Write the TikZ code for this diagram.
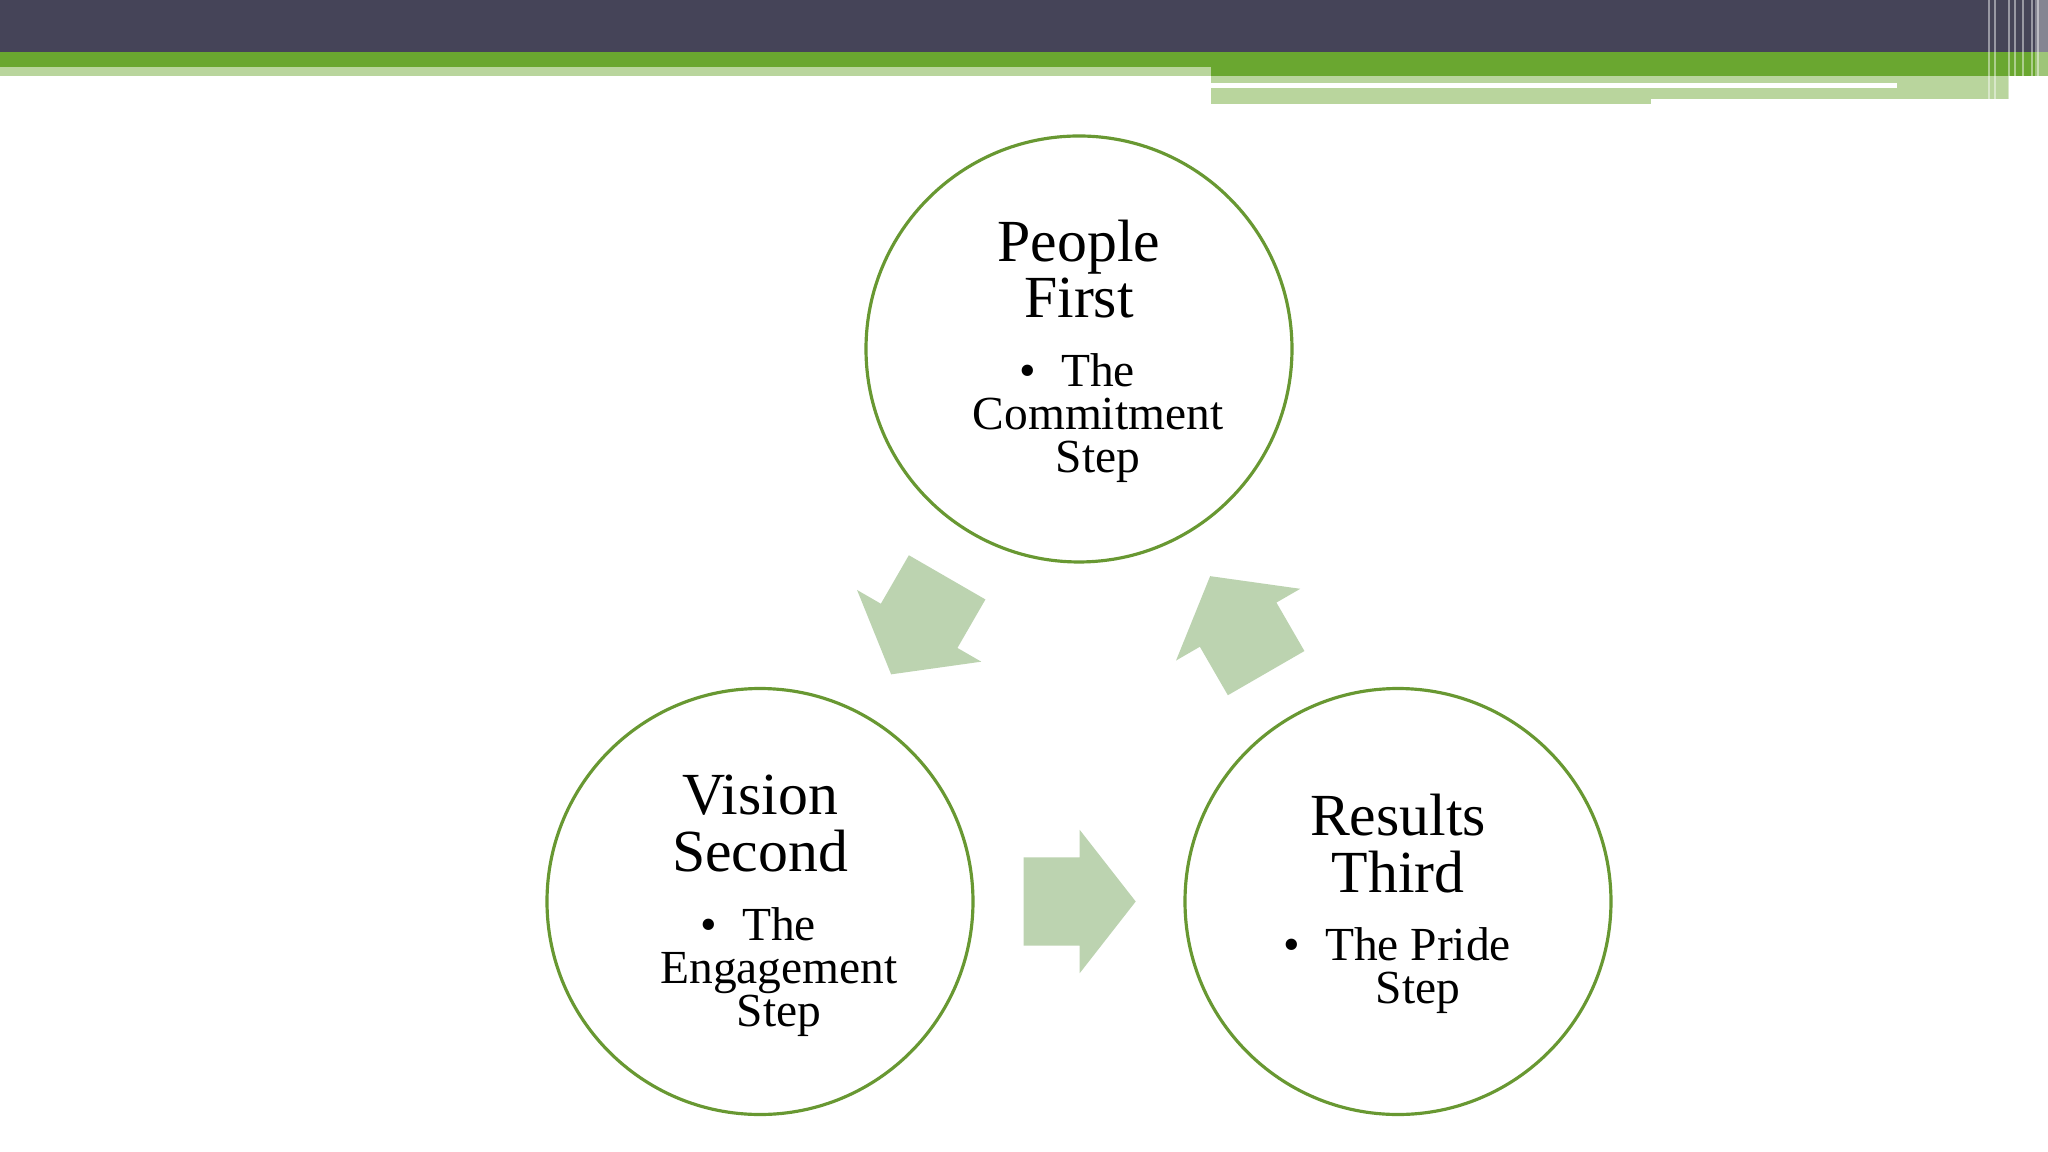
\documentclass[tikz,border=0pt]{standalone}
\usepackage{fontspec}
\setmainfont{Liberation Serif}
\usetikzlibrary{shapes.arrows,positioning,calc}
\definecolor{barDark}{RGB}{69,68,88}
\definecolor{barGreen}{RGB}{106,167,48}
\definecolor{barLight}{RGB}{185,213,157}
\definecolor{ringGreen}{RGB}{104,152,50}
\definecolor{arrowGreen}{RGB}{188,211,176}
\tikzset{
  stage/.style={circle,draw=ringGreen,line width=0.9pt,minimum size=4.26cm,inner sep=0pt},
  heading/.style={align=center,font=\fontsize{17}{16.2}\selectfont,inner sep=0pt,anchor=base},
  detail/.style={align=center,font=\fontsize{13.5}{12.3}\selectfont,inner sep=0pt,anchor=base},
  turn/.style={single arrow,fill=arrowGreen,minimum height=1.12cm,inner xsep=0pt,inner ysep=0.435cm,
    single arrow head extend=0.275cm,single arrow tip angle=104,anchor=tail}
}
\newcommand{\bulletlead}{\llap{\textbullet\hspace{0.25cm}}}

\begin{document}
\begin{tikzpicture}[
  stripe/.style={white,opacity=0.45,line width=0.6pt}
]
  \useasboundingbox[fill=white] (0,0) rectangle (20.48,11.52);
  \fill[barDark] (0,11.00) rectangle (20.48,11.52);
  \fill[barGreen] (0,10.85) rectangle (20.48,11.00);
  \fill[barGreen] (12.11,10.76) rectangle (20.48,10.85);
  \fill[barLight] (0,10.76) rectangle (12.11,10.85);
  \fill[barLight] (12.11,10.48) rectangle (16.51,10.76);
  \fill[barLight] (16.51,10.53) rectangle (20.09,10.76);
  \fill[white] (12.11,10.64) rectangle (18.97,10.69);
  \foreach \x in {19.89,19.95,20.09,20.15,20.23,20.32,20.38} {
    \draw[stripe] (\x,10.50) -- (\x,11.52);
  }
  \fill[white,opacity=0.35] (20.35,10.50) rectangle (20.48,11.52);
  \node[stage] (people) at (10.79,8.03) {};
  \node[stage] (vision) at ($(people)+(240:6.38)$) {};
  \node[stage] (results) at ($(people)+(300:6.38)$) {};
  \node[heading] (peopleTitle) at ($(people)+(0,0.31)$) {People\\First};
  \node[detail] (peopleText) at ($(people)+(0.19,-1.24)$) {\bulletlead The\\Commitment\\Step};
  \node[heading] (visionTitle) at ($(vision)+(0,0.30)$) {Vision\\Second};
  \node[detail] (visionText) at ($(vision)+(0.19,-1.25)$) {\bulletlead The\\Engagement\\Step};
  \node[heading] (resultsTitle) at ($(results)+(0,0.09)$) {Results\\Third};
  \node[detail] (resultsText) at ($(results)+(0.20,-1.02)$) {\bulletlead The Pride\\Step};
  \node[turn,rotate=240] (peopleToVision) at ($(people)!2.63cm!(vision)$) {};
  \node[turn] (visionToResults) at ($(vision)!2.63cm!(results)$) {};
  \node[turn,rotate=120] (resultsToPeople) at ($(results)!2.63cm!(people)$) {};
\end{tikzpicture}
\end{document}
